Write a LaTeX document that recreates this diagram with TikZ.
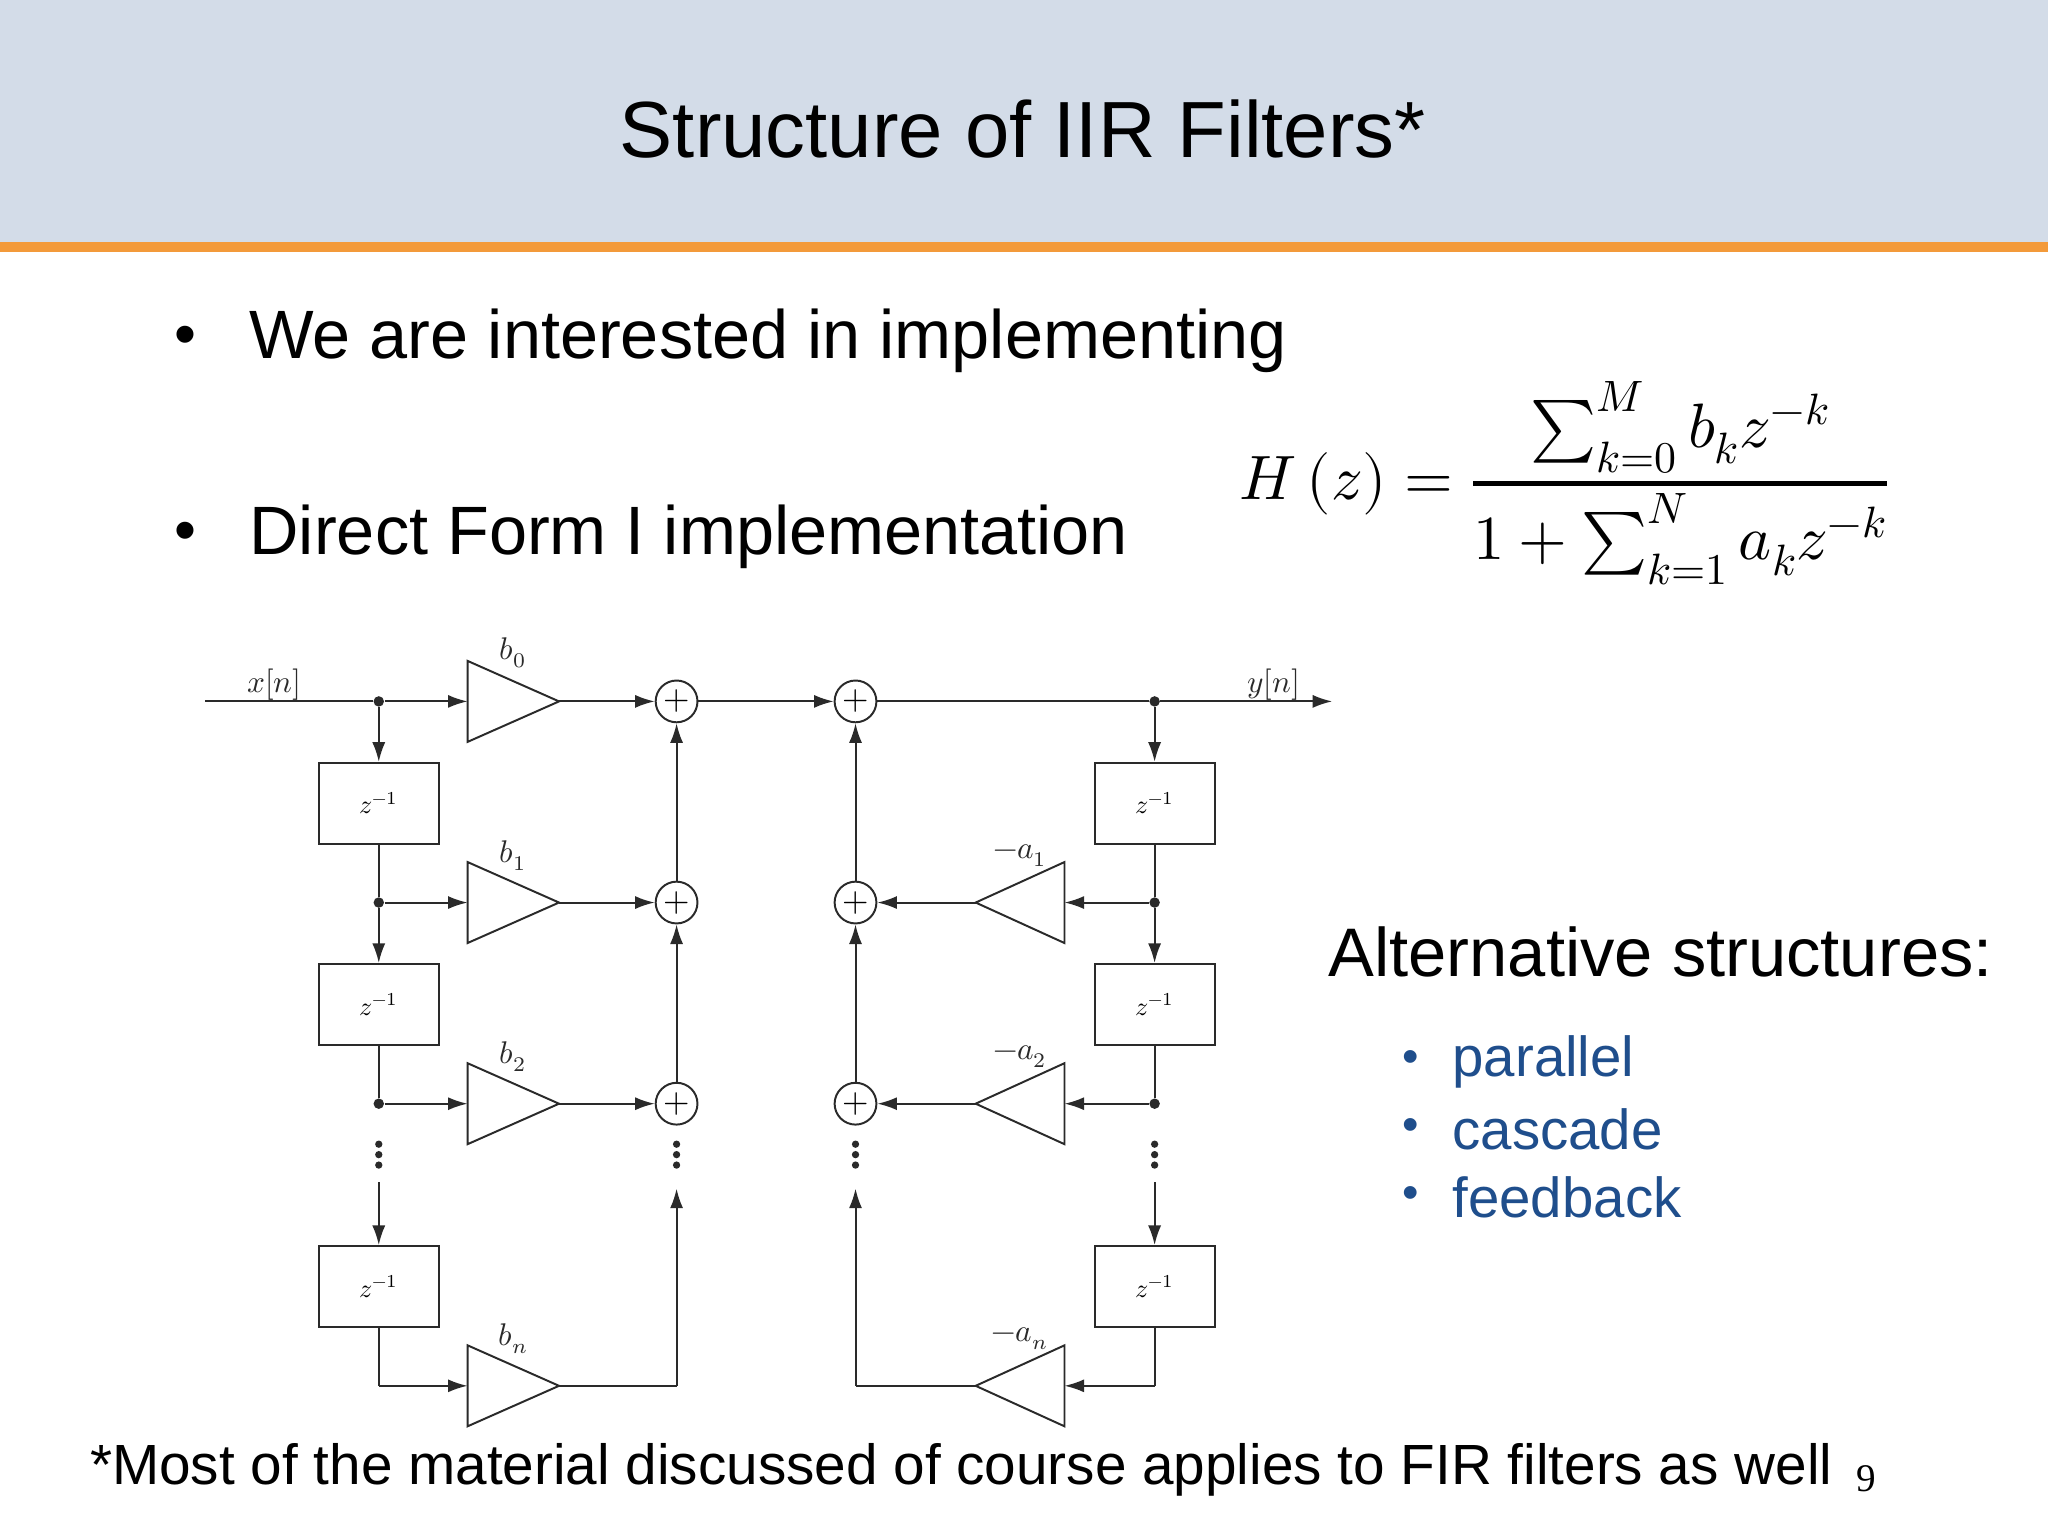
\documentclass[tikz,border=0pt]{standalone}
\usepackage{amsmath}
\usepackage{fontspec}
\setmainfont{Liberation Sans}
\newfontfamily\serifnum{Liberation Serif}
\usepackage{unicode-math}
\setmathfont{Latin Modern Math}
\usetikzlibrary{arrows.meta}
\definecolor{hdr}{HTML}{D3DCE8}
\definecolor{org}{HTML}{F39A3A}
\definecolor{blu}{HTML}{1F4E8C}
\definecolor{ln}{HTML}{2A2A2A}
\tikzset{
  wire/.style={draw=ln,line width=0.75pt},
  arr/.style={wire,-{Latex[length=7.5pt,width=5pt]}},
  dot/.style={circle,fill=ln,inner sep=0pt,minimum size=4pt},
  delay/.style={draw=ln,line width=0.75pt,minimum width=46pt,minimum height=31pt,inner sep=0pt,font=\fontsize{10}{11}\selectfont},
  tri/.style={draw=ln,line width=0.75pt,line join=miter},
  adder/.style={draw=ln,line width=0.75pt,circle,minimum size=16pt,inner sep=0pt,font=\fontsize{13}{13}\selectfont},
  lab/.style={font=\fontsize{12}{14}\selectfont,text=ln},
}
\begin{document}
\begin{tikzpicture}[x=0.5pt,y=-0.5pt]
\useasboundingbox (0,0) rectangle (1568,1174);
\fill[white] (0,0) rectangle (1568,1174);
\fill[hdr] (0,0) rectangle (1568,185);
\fill[org] (0,185) rectangle (1568,193);
\node (title) at (783,99) {\fontsize{30.5}{36}\selectfont Structure of IIR Filters*};
\node (b1) at (142,261) {\fontsize{24}{30}\selectfont •};
\node[anchor=west] (t1) at (184,261) {\fontsize{26.2}{32}\selectfont We are interested in implementing};
\node (b2) at (142,411) {\fontsize{24}{30}\selectfont •};
\node[anchor=west] (t2) at (184,411) {\fontsize{26.2}{32}\selectfont Direct Form I implementation};
\node (hz) at (1198,370) {\fontsize{24}{29}\selectfont $H\left(z\right)=\genfrac{}{}{2.2pt}{0}{\textstyle\sum_{k=0}^{M} b_k z^{-k}}{1+\textstyle\sum_{k=1}^{N} a_k z^{-k}}$};
\node[anchor=west] (alt) at (1010,729) {\fontsize{26.3}{30}\selectfont Alternative structures:};
\foreach \y/\t in {810/parallel,862/cascade,914/feedback}{
  \node (bb\t) at (1080,\y+3) {\fontsize{18}{22}\selectfont\color{blu}•};
  \node[anchor=west] (tt\t) at (1105,\y+3) {\fontsize{21.6}{26}\selectfont\color{blu}\t};
}
\node[anchor=west] (foot) at (62,1125) {\fontsize{21.7}{26}\selectfont *Most of the material discussed of course applies to FIR filters as well};
\node (pg) at (1429,1132) {\fontsize{15}{16}\selectfont\serifnum 9};

% diagram nodes
\node[dot] (d0) at (290,537) {};
\node[dot] (d1) at (290,691) {};
\node[dot] (d2) at (290,845) {};
\node[dot] (e0) at (884,537) {};
\node[dot] (e1) at (884,691) {};
\node[dot] (e2) at (884,845) {};
\node[delay] (L1) at (290,615) {$z^{-1}$};
\node[delay] (L2) at (290,769) {$z^{-1}$};
\node[delay] (Ln) at (290,985) {$z^{-1}$};
\node[delay] (R1) at (884,615) {$z^{-1}$};
\node[delay] (R2) at (884,769) {$z^{-1}$};
\node[delay] (Rn) at (884,985) {$z^{-1}$};
\node[adder] (S0) at (518,537) {$+$};
\node[adder] (S1) at (518,691) {$+$};
\node[adder] (S2) at (518,845) {$+$};
\node[adder] (T0) at (655,537) {$+$};
\node[adder] (T1) at (655,691) {$+$};
\node[adder] (T2) at (655,845) {$+$};
\foreach \n/\yy in {G0/537,G1/691,G2/845,Gn/1061}{
  \coordinate (\n in) at (358,\yy);
  \coordinate (\n out) at (428,\yy);
  \draw[tri] (358,\yy-31) -- (428,\yy) -- (358,\yy+31) -- cycle;
}
\foreach \n/\yy in {A1/691,A2/845,An/1061}{
  \coordinate (\n in) at (815,\yy);
  \coordinate (\n out) at (747,\yy);
  \draw[tri] (815,\yy-31) -- (747,\yy) -- (815,\yy+31) -- cycle;
}
\node[lab] (lx) at (210,524) {$x[n]$};
\node[lab] (ly) at (975,524) {$y[n]$};
\node[lab] (l0) at (393,500) {$b_0$};
\node[lab] (l1) at (393,655) {$b_1$};
\node[lab] (l2) at (393,809) {$b_2$};
\node[lab] (ln) at (393,1025) {$b_n$};
\node[lab] (m1) at (781,655) {$-a_1$};
\node[lab] (m2) at (781,809) {$-a_2$};
\node[lab] (mn) at (781,1025) {$-a_n$};
\coordinate (xin) at (157,537);
\coordinate (yout) at (1020,537);
\coordinate (lvd) at (290,905);
\coordinate (rvd) at (884,905);
\coordinate (upS) at (518,910);
\coordinate (upT) at (655,910);
\coordinate (cL) at (290,1061);
\coordinate (cS) at (518,1061);
\coordinate (cT) at (655,1061);
\coordinate (cR) at (884,1061);
\foreach \xx in {290,518,655,884}{
  \foreach \yy in {876,884,892}{\fill[ln] (\xx,\yy) circle (1.4pt);}
}
\draw[wire] (xin) -- (d0);
\draw[arr] (d0) -- (G0in);
\draw[arr] (d0) -- (L1.north);
\draw[wire] (L1.south) -- (d1);
\draw[arr] (d1) -- (L2.north);
\draw[arr] (d1) -- (G1in);
\draw[wire] (L2.south) -- (d2);
\draw[arr] (d2) -- (G2in);
\draw[arr] (lvd) -- (Ln.north);
\draw[wire] (Ln.south) -- (cL);
\draw[arr] (cL) -- (Gnin);
\draw[arr] (G0out) -- (S0.west);
\draw[arr] (G1out) -- (S1.west);
\draw[arr] (G2out) -- (S2.west);
\draw[wire] (Gnout) -- (cS);
\draw[arr] (cS) -- (upS);
\draw[arr] (S1.north) -- (S0.south);
\draw[arr] (S2.north) -- (S1.south);
\draw[arr] (S0.east) -- (T0.west);
\draw[wire] (T0.east) -- (e0);
\draw[arr] (e0) -- (yout);
\draw[arr] (T1.north) -- (T0.south);
\draw[arr] (T2.north) -- (T1.south);
\draw[arr] (e0) -- (R1.north);
\draw[wire] (R1.south) -- (e1);
\draw[arr] (e1) -- (R2.north);
\draw[arr] (e1) -- (A1in);
\draw[wire] (R2.south) -- (e2);
\draw[arr] (e2) -- (A2in);
\draw[arr] (rvd) -- (Rn.north);
\draw[wire] (Rn.south) -- (cR);
\draw[arr] (cR) -- (Anin);
\draw[arr] (A1out) -- (T1.east);
\draw[arr] (A2out) -- (T2.east);
\draw[wire] (Anout) -- (cT);
\draw[arr] (cT) -- (upT);
\end{tikzpicture}
\end{document}
